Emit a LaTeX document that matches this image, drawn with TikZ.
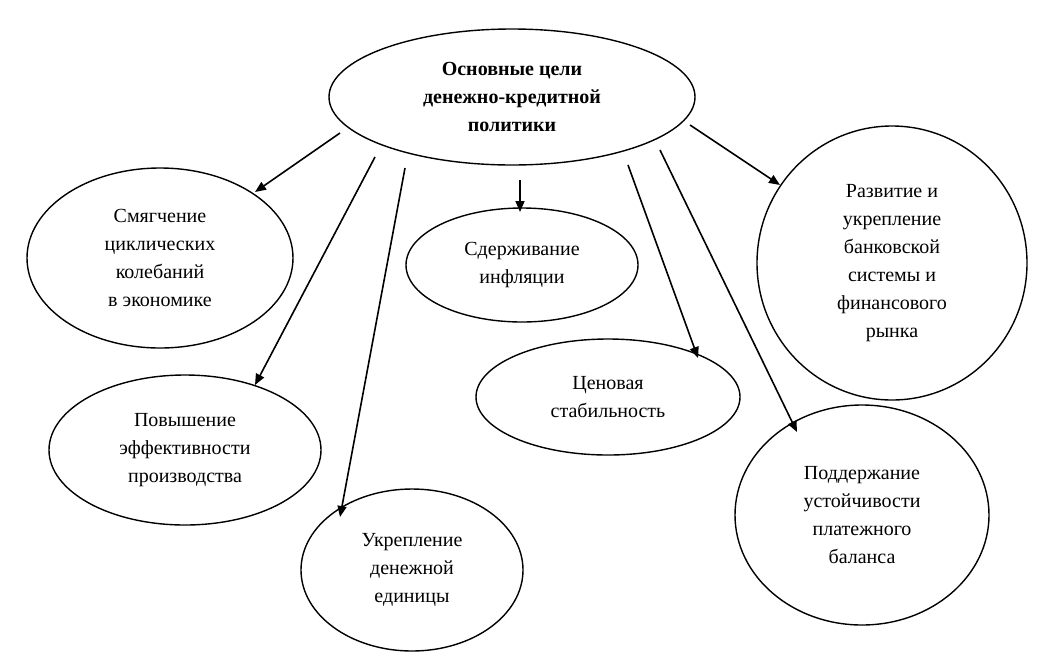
\documentclass[tikz,border=0pt]{standalone}
\usepackage{fontspec}
\setmainfont{Liberation Serif}
\usetikzlibrary{shapes.geometric,arrows.meta}
\begin{document}
\begin{tikzpicture}[x=1pt,y=-1pt,
  el/.style={draw,line width=1.4pt,ellipse,inner sep=0pt,align=center,font=\fontsize{20}{28}\selectfont},
  arr/.style={line width=1.6pt,-{Triangle[length=11pt,width=9pt]}}]
\useasboundingbox (0,0) rectangle (1043,657);
\node[el,minimum width=366,minimum height=136,font=\bfseries\fontsize{20}{28}\selectfont] (top) at (512,97) {Основные цели\\денежно-кредитной\\политики};
\node[el,minimum width=266,minimum height=180] (a) at (160,258) {Смягчение\\циклических\\колебаний\\в экономике};
\node[el,minimum width=232,minimum height=114] (b) at (522,265) {Сдерживание\\инфляции};
\node[el,minimum width=270,minimum height=274] (c) at (892,263) {Развитие и\\укрепление\\банковской\\системы и\\финансового\\рынка};
\node[el,minimum width=272,minimum height=150] (d) at (185,450) {Повышение\\эффективности\\производства};
\node[el,minimum width=264,minimum height=116] (e) at (608,397) {Ценовая\\стабильность};
\node[el,minimum width=222,minimum height=162] (f) at (412,570) {Укрепление\\денежной\\единицы};
\node[el,minimum width=254,minimum height=220] (g) at (862,515) {Поддержание\\устойчивости\\платежного\\баланса};
\coordinate (s1) at (340,133); \coordinate (t1) at (255,192);
\coordinate (s2) at (375,157); \coordinate (t2) at (255,385);
\coordinate (s3) at (405,168); \coordinate (t3) at (340,517);
\coordinate (s4) at (520,180); \coordinate (t4) at (520,212);
\coordinate (s5) at (628,165); \coordinate (t5) at (698,358);
\coordinate (s6) at (660,150); \coordinate (t6) at (797,432);
\coordinate (s7) at (690,125); \coordinate (t7) at (780,185);
\foreach \i in {1,...,7} \draw[arr] (s\i) -- (t\i);
\end{tikzpicture}
\end{document}
